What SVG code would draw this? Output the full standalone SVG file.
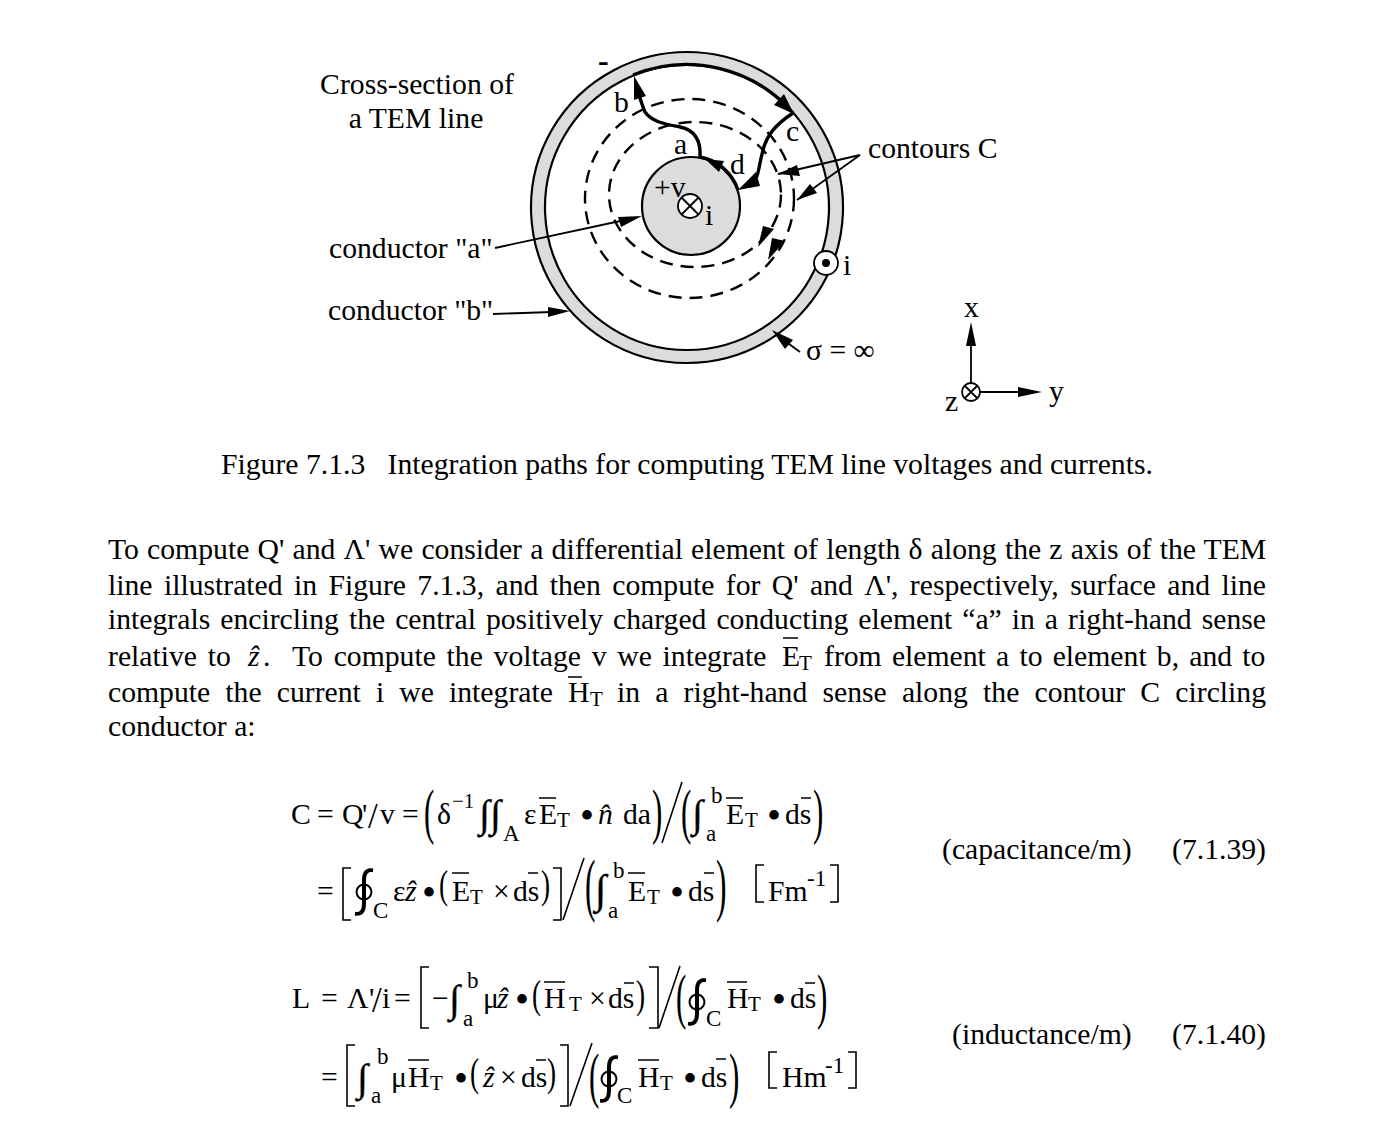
<svg xmlns="http://www.w3.org/2000/svg" width="1397" height="1146" viewBox="0 0 1397 1146">
<style>
text{font-family:"Liberation Serif","DejaVu Serif",serif;font-size:29.7px;fill:#000}
.s{font-size:23px}
.t2{font-size:21px}
.i{font-style:italic}
.int{font-size:39px;stroke:#000;stroke-width:.4}
.cint{font-size:50px;font-family:"Noto Sans CJK SC","DejaVu Serif",serif;font-weight:400}
.bu{font-size:40px}
.sl{font-size:35px}
.p39{font-size:39px}
.p60{font-size:62px}
.p70{font-size:70px}
.l{fill:none;stroke:#000;stroke-width:1.6}
.t{fill:none;stroke:#000;stroke-width:3.4}
.d{fill:none;stroke:#000;stroke-width:2.4;stroke-dasharray:13 8}
.a{fill:#000;stroke:none}
.ln{fill:none;stroke:#000;stroke-width:1.8}
.bar{fill:none;stroke:#000;stroke-width:1.5}
</style>
<rect width="1397" height="1146" fill="#fff"/>
<g id="conductor-b"><path d="M687 52a156 155.500 0 1 0 .01 0ZM687 65a142 142.500 0 1 1 -.01 0Z" fill="#dcdcdc" fill-rule="evenodd" stroke="#000" stroke-width="2.2"/></g>
<g id="conductor-a"><circle cx="691" cy="206" r="49" fill="#dcdcdc" stroke="#000" stroke-width="2.200"/></g>
<g id="contours"><ellipse cx="689.500" cy="198.500" rx="104.500" ry="99.500" class="d"/><ellipse cx="695" cy="194.500" rx="86" ry="72.500" class="d"/></g>
<g id="current-in"><circle cx="690" cy="206" r="12" fill="#fff" stroke="#000" stroke-width="1.800"/><path d="M681.500 197.500l17 17M698.500 197.500l-17 17" class="ln"/></g>
<g id="current-out"><circle cx="826" cy="263" r="12" fill="#fff" stroke="#000" stroke-width="1.800"/><circle cx="826" cy="263" r="4" fill="#000"/></g>
<g id="connectors">
<path d="M633 75A142 142.500 0 0 1 793 113" class="t"/>
<path class="a" d="M794 114L774 105L784 94Z"/>
<path d="M793 113C775 125 767 135 763 150C758 170 758 178 755 180L745 186" class="t"/>
<path class="a" d="M738 190L756 172L760 186Z"/>
<path d="M738 190A49 49 0 0 0 700 157" class="t"/>
<path class="a" d="M705 159L724 161L719 172Z"/>
<path d="M700 157C701 140 695 130 680 127C665 124 652 122 645 112C642 105 640 98 638 92" class="t"/>
<path class="a" d="M634 76L646 96L634 100Z"/>
<path d="M495 248L625 220" class="ln"/><path class="a" d="M642 216L621 227L618 217Z"/>
<path d="M493 314L552 312" class="ln"/><path class="a" d="M570 311L548 317L548 307Z"/>
<path d="M778 174L860 155L797 200" class="ln"/>
<path class="a" d="M778 174L797 165L800 176Z"/><path class="a" d="M797 200L810 184L817 193Z"/>
<path d="M800 352L785 341" class="ln"/><path class="a" d="M772 330L793 340L785 349Z"/>
<path class="a" d="M758 247L763 226L774 229Z"/><path class="a" d="M768 260L772 238L785 241Z"/>
<path d="M971 384V340" class="ln"/><path class="a" d="M971 322L976 346L966 346Z"/>
<path d="M980 392H1022" class="ln"/><path class="a" d="M1042 392L1018 397L1018 387Z"/>
</g>
<g id="axis-origin"><circle cx="971" cy="392" r="9" fill="#fff" stroke="#000" stroke-width="1.800"/><path d="M965 386l12 12M977 386l-12 12" class="ln"/></g>
<g id="labels">
<text x="417" y="94" text-anchor="middle">Cross-section of</text>
<text x="416" y="128" text-anchor="middle">a TEM line</text>
<text x="329" y="258">conductor "a"</text>
<text x="328" y="320">conductor "b"</text>
<text x="868" y="158">contours C</text>
<text x="806" y="360">σ = ∞</text>
<text x="964" y="317">x</text>
<text x="1049" y="401">y</text>
<text x="945" y="411">z</text>
<text x="598" y="71" style="font-size:32px;font-weight:bold">-</text>
<text x="614" y="112">b</text>
<text x="674" y="154">a</text>
<text x="786" y="141">c</text>
<text x="730" y="174">d</text>
<text x="654" y="197">+v</text>
<text x="705" y="225">i</text>
<text x="843" y="275">i</text>
</g>
<g id="body">
<text x="221" y="474" xml:space="preserve">Figure 7.1.3   Integration paths for computing TEM line voltages and currents.</text>
<text x="108" y="559" word-spacing=".77">To compute Q' and Λ' we consider a differential element of length δ along the z axis of the TEM</text>
<text x="108" y="595" word-spacing="3.95">line illustrated in Figure 7.1.3, and then compute for Q' and Λ', respectively, surface and line</text>
<text x="108" y="629" word-spacing="2.57">integrals encircling the central positively charged conducting element “a” in a right-hand sense</text>
<text x="108" y="666" word-spacing="3.4">relative to</text>
<text x="248" y="666" class="i">ẑ</text><text x="263" y="666">.</text>
<text x="292" y="666" word-spacing="3.3">To compute the voltage v we integrate</text>
<path d="M783 638H798M568 677H582" class="bar"/>
<text x="782" y="666">E</text><text x="799" y="670" class="t2">T</text>
<text x="824" y="666" word-spacing="2.76">from element a to element b, and to</text>
<text x="108" y="702" word-spacing="7.7">compute the current i we integrate</text>
<text x="568" y="702">H</text><text x="590" y="706" class="t2">T</text>
<text x="617" y="702" word-spacing="7.75">in a right-hand sense along the contour C circling</text>
<text x="108" y="736">conductor a:</text>
</g>
<g id="eq-capacitance">
<text x="291" y="824">C</text><text x="317" y="824">=</text><text x="342" y="824">Q</text><text x="362" y="824">'</text><text x="368" y="828" class="sl">/</text><text x="380" y="824">v</text><text x="402" y="824">=</text>
<text transform="translate(424 832) scale(.5 1)" class="p60">(</text>
<text x="437" y="824">δ</text><text x="452" y="808" style="font-size:21px">−1</text>
<text x="479" y="827" class="int">∫</text><text x="490" y="827" class="int">∫</text><text x="503" y="841" class="s">A</text>
<text x="524" y="824">ε</text><text x="539" y="824">E</text><text x="557" y="827" class="t2">T</text>
<text x="580" y="829" class="bu">•</text>
<text x="598" y="824" class="i">n̂</text><text x="623" y="824">da</text>
<text transform="translate(652 832) scale(.5 1)" class="p60">)</text>
<path d="M662 843L682 782" class="l"/>
<text transform="translate(681 832) scale(.5 1)" class="p60">(</text>
<text x="692" y="827" class="int">∫</text><text x="711" y="803" class="s">b</text><text x="706" y="841" class="s">a</text>
<text x="726" y="824">E</text><text x="745" y="827" class="t2">T</text>
<text x="767" y="829" class="bu">•</text><text x="785" y="824">ds</text>
<text transform="translate(813 832) scale(.5 1)" class="p60">)</text>
<path d="M539 798H556M726 798H743M801 798H811" class="bar"/>
<text x="317" y="901">=</text>
<path d="M351 868H343V920H351" class="l"/>
<text x="339" y="911" class="cint">∮</text><text x="373" y="918" class="s">C</text>
<text x="393" y="901">ε</text><text x="405" y="901" class="i">ẑ</text><text x="422" y="906" class="bu">•</text>
<text transform="translate(439 898) scale(.7 1)" class="p39">(</text>
<text x="452" y="901">E</text><text x="470" y="904" class="t2">T</text><text x="493" y="901">×</text><text x="513" y="901">ds</text>
<text transform="translate(541 898) scale(.7 1)" class="p39">)</text>
<path d="M553 868H561V920H553" class="l"/>
<path d="M563 920L584 858" class="l"/>
<text transform="translate(585 908) scale(.45 1)" class="p70">(</text>
<text x="595" y="903" class="int" style="font-size:41px">∫</text><text x="613" y="878" class="s">b</text><text x="608" y="918" class="s">a</text>
<text x="628" y="901">E</text><text x="647" y="904" class="t2">T</text><text x="670" y="906" class="bu">•</text><text x="688" y="901">ds</text>
<text transform="translate(716 908) scale(.45 1)" class="p70">)</text>
<path d="M452 873H469M628 873H645M528 873H538M704 873H714" class="bar"/>
<path d="M764 865H756V902H764M830 865H838V902H830" class="l"/>
<text x="768" y="901">Fm</text><text x="807" y="886" class="s">-1</text>
<text x="942" y="859">(capacitance/m)</text><text x="1172" y="859">(7.1.39)</text>
</g>
<g id="eq-inductance">
<text x="292" y="1008">L</text><text x="321" y="1008">=</text><text x="347" y="1008">Λ</text><text x="369" y="1008">'</text><text x="372" y="1012" class="sl">/</text><text x="382" y="1008">i</text><text x="394" y="1008">=</text>
<path d="M429 967H421V1028H429" class="l"/>
<text x="432" y="1008">−</text>
<text x="449" y="1012" class="int">∫</text><text x="467" y="988" class="s">b</text><text x="463" y="1026" class="s">a</text>
<text x="483" y="1008">μ</text><text x="497" y="1008" class="i">ẑ</text><text x="515" y="1013" class="bu">•</text>
<text transform="translate(532 1008) scale(.7 1)" class="p39">(</text>
<text x="544" y="1008">H</text><text x="569" y="1011" class="t2">T</text><text x="589" y="1008">×</text><text x="608" y="1008">ds</text>
<text transform="translate(636 1008) scale(.7 1)" class="p39">)</text>
<path d="M649 967H658V1028H649" class="l"/>
<path d="M659 1028L680 966" class="l"/>
<text transform="translate(676 1017) scale(.5 1)" class="p60">(</text>
<text x="672" y="1021" class="cint">∮</text><text x="706" y="1026" class="s">C</text>
<text x="727" y="1008">H</text><text x="748" y="1011" class="t2">T</text><text x="772" y="1013" class="bu">•</text><text x="790" y="1008">ds</text>
<text transform="translate(817 1017) scale(.5 1)" class="p60">)</text>
<path d="M544 982H565M727 982H747M624 983H634M805 983H815" class="bar"/>
<text x="321" y="1087">=</text>
<path d="M355 1045H347V1106H355" class="l"/>
<text x="357" y="1091" class="int">∫</text><text x="377" y="1064" class="s">b</text><text x="371" y="1103" class="s">a</text>
<text x="391" y="1087">μ</text><text x="408" y="1087">H</text><text x="430" y="1090" class="t2">T</text><text x="454" y="1092" class="bu">•</text>
<text transform="translate(470 1086) scale(.7 1)" class="p39">(</text>
<text x="483" y="1087" class="i">ẑ</text><text x="500" y="1087">×</text><text x="521" y="1087">ds</text>
<text transform="translate(547 1086) scale(.7 1)" class="p39">)</text>
<path d="M560 1045H568V1106H560" class="l"/>
<path d="M570 1106L592 1043" class="l"/>
<text transform="translate(589 1096) scale(.5 1)" class="p60">(</text>
<text x="584" y="1098" class="cint">∮</text><text x="617" y="1103" class="s">C</text>
<text x="638" y="1087">H</text><text x="660" y="1090" class="t2">T</text><text x="683" y="1092" class="bu">•</text><text x="701" y="1087">ds</text>
<text transform="translate(729 1096) scale(.5 1)" class="p60">)</text>
<path d="M408 1060H429M638 1060H659M536 1060H546M716 1059H726" class="bar"/>
<path d="M777 1052H769V1088H777M848 1052H856V1088H848" class="l"/>
<text x="782" y="1087">Hm</text><text x="825" y="1073" class="s">-1</text>
<text x="952" y="1044">(inductance/m)</text><text x="1172" y="1044">(7.1.40)</text>
</g>
</svg>
